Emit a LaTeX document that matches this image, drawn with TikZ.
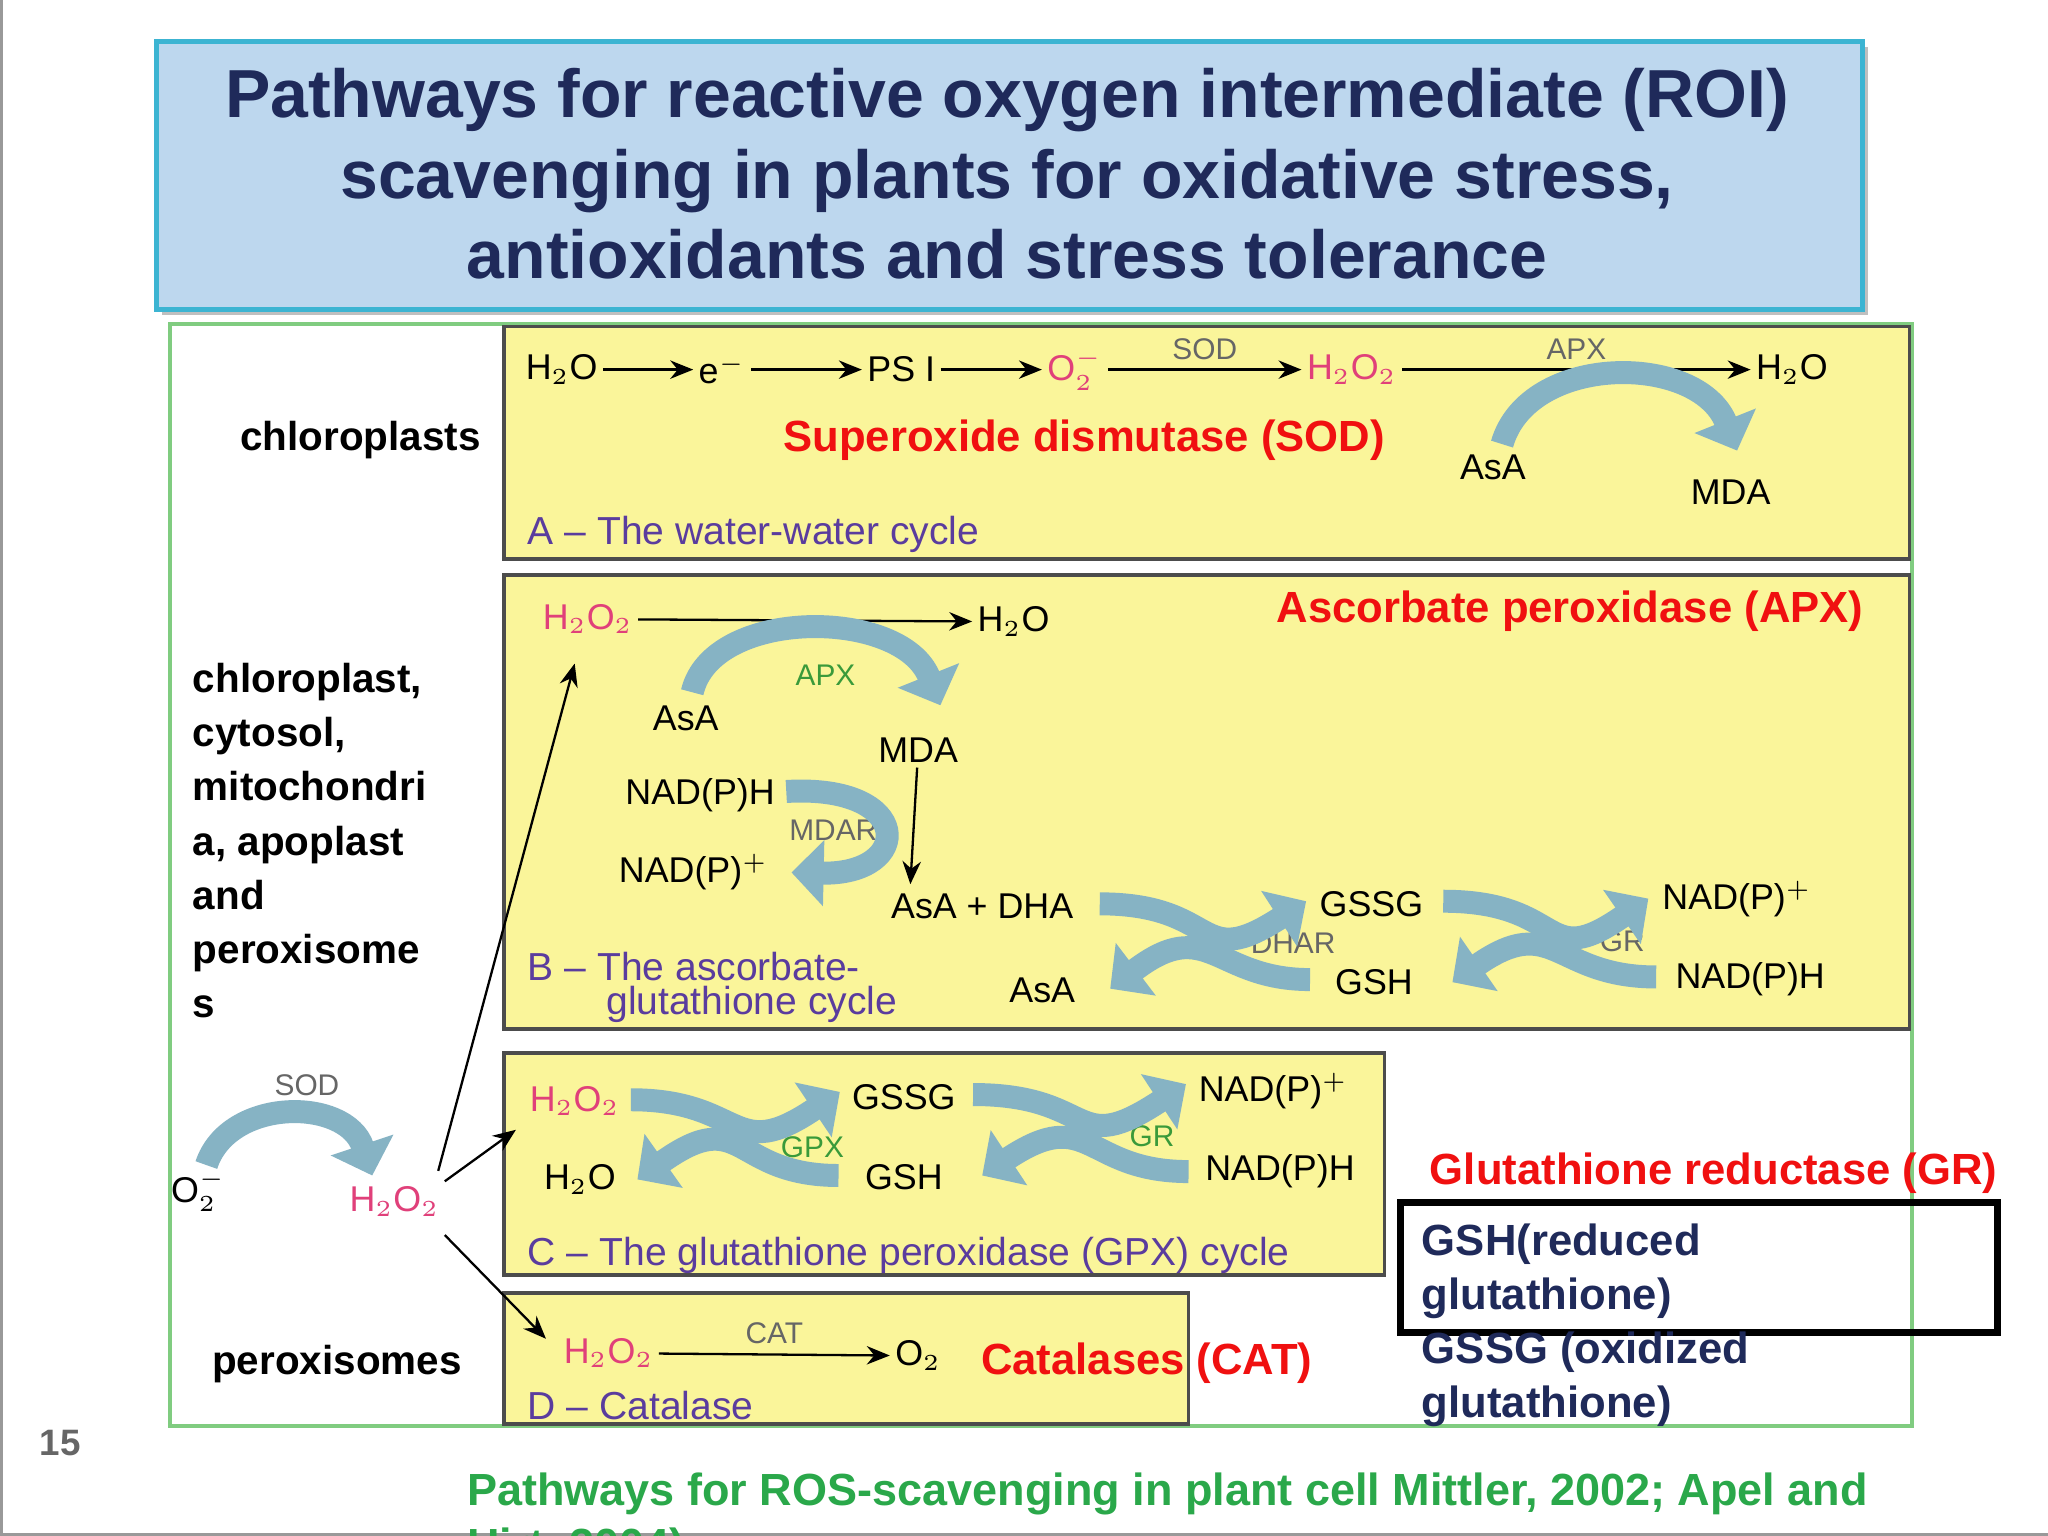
\documentclass[tikz,border=0pt]{standalone}
\usepackage{fontspec}
\setmainfont{Liberation Sans}
\usetikzlibrary{arrows.meta}
\definecolor{navy}{HTML}{1F2A5A}
\definecolor{ttlfill}{HTML}{BDD7EE}
\definecolor{ttlline}{HTML}{3CB4D2}
\definecolor{panel}{HTML}{FAF59A}
\definecolor{pink}{HTML}{E0407A}
\definecolor{purp}{HTML}{5A3C9E}
\definecolor{redl}{HTML}{F01010}
\definecolor{grn}{HTML}{2AA84A}
\definecolor{enz}{HTML}{3A9A3A}
\definecolor{fatc}{HTML}{86B3C4}
\tikzset{
 pnl/.style={draw=black!70,fill=panel,line width=0.8pt},
 sm/.style={font=\fontsize{7.8}{8}\selectfont,inner sep=1pt},
 smp/.style={sm,text=pink},
 lab/.style={font=\fontsize{8.5}{9}\selectfont,inner sep=1pt,text=purp,anchor=west},
 en/.style={font=\fontsize{6.5}{7}\selectfont,text=black!60,inner sep=1pt},
 side/.style={font=\bfseries\fontsize{8.8}{11.8}\selectfont,inner sep=0pt},
 red/.style={font=\bfseries\fontsize{9.5}{11}\selectfont,text=redl,inner sep=0pt},
 ar/.style={-{Stealth[length=5pt,width=4pt]},line width=0.5pt},
 fat/.style={draw=fatc,line width=5pt,-{Triangle[length=7pt,width=14pt]}},
}
\begin{document}
\begin{tikzpicture}[x=0.01cm,y=-0.01cm]
\useasboundingbox (0,0) rectangle (1568,1176);
\fill[white] (0,0) rectangle (1568,1176);
\draw[black!40,line width=1pt] (0.5,0) -- (0.5,1175.5) -- (1568,1175.5);
% title
\fill[black!25] (124,36) rectangle (1430,241);
\node[draw=ttlline,fill=ttlfill,line width=1pt,minimum width=1306*0.01cm,minimum height=205*0.01cm,anchor=north west,inner sep=0pt] (title) at (118,30) {};
\node[font=\bfseries\fontsize{14.8}{17.6}\selectfont,text=navy,align=center] (ttxt) at (771,133) {Pathways for reactive oxygen intermediate (ROI)\\scavenging in plants for oxidative stress,\\antioxidants and stress tolerance};
% frame
\draw[green!60!black!50,line width=0.8pt] (130,248) rectangle (1464,1092);
\draw[pnl] (386,250) rectangle (1462,428);
\draw[pnl] (386,440) rectangle (1462,788);
\draw[pnl] (386,806) rectangle (1060,976);
\draw[pnl] (386,990) rectangle (910,1090);
% side labels
\node[side] (lc) at (276,337) {chloroplasts};
\node[side,anchor=north west,align=left] (lm) at (147,507) {chloroplast,\\cytosol,\\mitochondri\\a, apoplast\\and\\peroxisome\\s};
\node[side] (lp) at (258,1044) {peroxisomes};
\node[red] (r1) at (830,337) {Superoxide dismutase (SOD)};
\node[red] (r2) at (1202,468) {Ascorbate peroxidase (APX)};
\node[red] (r3) at (1312,898) {Glutathione reductase (GR)};
\node[red] (r4) at (878,1044) {Catalases (CAT)};
\draw[black,line width=1.5pt] (1072,921) rectangle (1529,1020);
\node[font=\bfseries\fontsize{9.5}{11.8}\selectfont,text=navy,anchor=north west,align=left,inner sep=0pt] (gtxt) at (1088,936) {GSH(reduced\\glutathione)\\GSSG (oxidized\\glutathione)};
\node[font=\bfseries\fontsize{8}{9}\selectfont,text=black!60] (pg) at (46,1105) {15};
\begin{scope}
\clip (0,0) rectangle (1568,1176);
\node[font=\bfseries\fontsize{9.8}{12}\selectfont,text=grn,anchor=north west,align=left,inner sep=0pt] (foot) at (357,1127) {Pathways for ROS-scavenging in plant cell Mittler, 2002; Apel and\\Hirt, 2004)};
\end{scope}
% Panel A
\node[sm] (a1) at (430,283) {H$_2$O};
\node[sm] (a2) at (553,283) {e$^{-}$};
\node[sm] (a3) at (690,283) {PS I};
\node[smp] (a4) at (823,283) {O$_2^{-}$};
\node[smp] (a5) at (1035,283) {H$_2$O$_2$};
\node[sm] (a6) at (1372,283) {H$_2$O};
\draw[ar] (a1) -- (a2); \draw[ar] (a2) -- (a3); \draw[ar] (a3) -- (a4);
\draw[ar] (a4) -- node[en,above=1pt]{SOD} (a5);
\draw[ar] (a5) -- node[en,above=1pt]{APX} (a6);
\node[sm] (a7) at (1143,358) {AsA};
\node[sm] (a8) at (1325,377) {MDA};
\draw[fat] (1150,340) .. controls (1170,270) and (1300,270) .. (1330,345);
\node[lab] (la) at (400,409) {A -- The water-water cycle};
% Panel B
\node[smp] (b1) at (450,474) {H$_2$O$_2$};
\node[sm] (b2) at (776,476) {H$_2$O};
\draw[ar] (b1) -- (b2);
\node[sm] (b3) at (525,550) {AsA};
\node[sm] (b4) at (703,574) {MDA};
\draw[fat] (530,530) .. controls (545,465) and (690,465) .. (720,540);
\node[en,text=enz] (b5) at (632,517) {APX};
\node[sm] (b6) at (536,609) {NAD(P)H};
\node[en] (b7) at (638,636) {MDAR};
\node[sm] (b8) at (531,668) {NAD(P)$^{+}$};
\draw[fat] (602,606) .. controls (700,600) and (700,670) .. (606,668);
\node[sm] (b9) at (752,694) {AsA + DHA};
\draw[ar] (b4) -- (697,677);
\node[sm] (b10) at (1050,692) {GSSG};
\node[en] (b11) at (990,722) {DHAR};
\node[sm] (b12) at (1052,752) {GSH};
\node[sm] (b13) at (798,758) {AsA};
\draw[fat] (842,692) .. controls (935,692) and (915,745) .. (1000,690);
\draw[fat] (1003,750) .. controls (930,750) and (925,700) .. (850,757);
\node[sm] (b14) at (1330,688) {NAD(P)$^{+}$};
\node[en] (b15) at (1242,721) {GR};
\node[sm] (b16) at (1340,750) {NAD(P)H};
\draw[fat] (1105,690) .. controls (1200,690) and (1180,745) .. (1262,688);
\draw[fat] (1268,748) .. controls (1190,748) and (1190,698) .. (1112,752);
\node[lab] (lb1) at (400,740) {B -- The ascorbate-};
\node[lab] (lb2) at (460,769) {glutathione cycle};
% Panel C
\node[smp] (c1) at (440,843) {H$_2$O$_2$};
\node[sm] (c2) at (692,840) {GSSG};
\node[en,text=enz] (c3) at (622,878) {GPX};
\node[sm] (c4) at (444,903) {H$_2$O};
\node[sm] (c5) at (692,901) {GSH};
\draw[fat] (483,842) .. controls (570,842) and (560,892) .. (643,836);
\draw[fat] (642,900) .. controls (560,900) and (570,845) .. (488,903);
\node[sm] (c6) at (975,835) {NAD(P)$^{+}$};
\node[en,text=enz] (c7) at (882,870) {GR};
\node[sm] (c8) at (980,897) {NAD(P)H};
\draw[fat] (745,838) .. controls (840,838) and (820,888) .. (908,830);
\draw[fat] (910,897) .. controls (830,897) and (835,845) .. (752,900);
\node[lab] (lc1) at (400,961) {C -- The glutathione peroxidase (GPX) cycle};
% Panel D
\node[smp] (d1) at (466,1036) {H$_2$O$_2$};
\node[sm] (d2) at (703,1038) {O$_2$};
\draw[ar] (d1) -- node[en,above=1pt]{CAT} (d2);
\node[lab] (ld) at (400,1076) {D -- Catalase};
% outside
\node[sm] (o1) at (152,912) {O$_2^{-}$};
\node[smp] (o2) at (302,920) {H$_2$O$_2$};
\node[en] (o3) at (235,831) {SOD};
\draw[fat] (158,892) .. controls (175,840) and (265,840) .. (285,900);
\coordinate (t1) at (440,508);
\coordinate (t2) at (395,865);
\coordinate (t3) at (418,1025);
\draw[ar] (o2.north east) ++(-5,-8) coordinate (s1) -- (t1);
\draw[ar] (o2.north east) -- (t2);
\draw[ar] (o2.south east) ++(0,10) coordinate (s3) -- (t3);
\end{tikzpicture}
\end{document}
